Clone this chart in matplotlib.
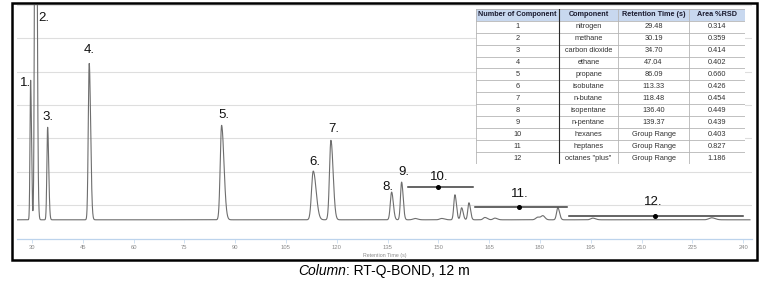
import numpy as np
import matplotlib
matplotlib.use("Agg")
import matplotlib.pyplot as plt
from matplotlib.patches import Rectangle

plt.rcParams['font.family'] = ['Liberation Sans', 'DejaVu Sans']

# ================= DATA =================

# table
table_header = ["Number of Component", "Component", "Retention Time (s)", "Area %RSD"]
comp_number = ["1", "2", "3", "4", "5", "6", "7", "8", "9", "10", "11", "12"]
comp_name = ["nitrogen", "methane", "carbon dioxide", "ethane", "propane", "isobutane",
             "n-butane", "isopentane", "n-pentane", "hexanes", "heptanes", 'octanes "plus"']
comp_rt = ["29.48", "30.19", "34.70", "47.04", "86.09", "113.33", "118.48", "136.40",
           "139.37", "Group Range", "Group Range", "Group Range"]
comp_rsd = ["0.314", "0.359", "0.414", "0.402", "0.660", "0.426", "0.454", "0.449",
            "0.439", "0.403", "0.827", "1.186"]

# chromatogram peaks (time s, height above baseline, left/right width s)
peak_time = [29.62, 31.09, 34.64, 46.92, 86.0, 113.06, 118.28, 136.2, 139.15,
             143.1, 151.0, 154.89, 156.87, 159.03, 163.75, 166.7, 179.4, 180.9,
             185.28, 195.6, 230.7]
peak_height = [4.18, 20.0, 2.77, 4.68, 2.83, 1.46, 2.38, 0.83, 1.13,
               0.04, 0.04, 0.75, 0.36, 0.51, 0.07, 0.05, 0.08, 0.11,
               0.36, 0.05, 0.06]
peak_sig_l = [0.18, 0.25, 0.22, 0.28, 0.4, 0.5, 0.42, 0.38, 0.33,
              0.6, 0.6, 0.33, 0.33, 0.33, 0.5, 0.5, 0.6, 0.5,
              0.38, 0.6, 0.8]
peak_sig_r = [0.26, 0.35, 0.32, 0.42, 0.7, 0.85, 0.65, 0.5, 0.45,
              0.8, 0.8, 0.45, 0.45, 0.45, 0.7, 0.7, 0.8, 0.6,
              0.5, 0.8, 1.0]
baseline = 0.56

# peak labels
label_text = ["1.", "2.", "3.", "4.", "5.", "6.", "7.", "8.", "9.", "10.", "11.", "12."]
label_t = [28.23, 33.54, 34.72, 46.98, 86.54, 113.55, 119.02, 135.11, 139.68, 150.31, 174.08, 213.49]
label_y = [4.66, 6.60, 3.64, 5.63, 3.70, 2.30, 3.29, 1.54, 1.98, 1.85, 1.33, 1.08]

# group ranges (10, 11, 12)
group_start = [140.92, 160.8, 188.55]
group_end = [160.12, 187.87, 239.83]
group_mid = [149.78, 173.78, 213.94]
group_level = [1.55, 0.94, 0.68]

xticks = list(range(30, 241, 15))

# ================= FIGURE =================

W, H = 768, 285
fig = plt.figure(figsize=(W / 100, H / 100), dpi=100)

# outer black frame
fig.patches.append(Rectangle((12 / W, (H - 260) / H), 745 / W, 257 / H,
                             transform=fig.transFigure, fill=False,
                             edgecolor="black", linewidth=1.8))

ax = fig.add_axes([17 / W, (H - 238.5) / H, 735 / W, 233.8 / H])
t = np.linspace(25.6, 242.0, 8000)
sig = np.full_like(t, baseline)
for t0, h, sl, sr in zip(peak_time, peak_height, peak_sig_l, peak_sig_r):
    s = np.where(t < t0, sl, sr)
    sig += h * np.exp(-0.5 * ((t - t0) / s) ** 2)
ax.plot(t, sig, color="#6e6e6e", linewidth=0.8)

for s0, s1, m, lv in zip(group_start, group_end, group_mid, group_level):
    ax.plot([s0, s1], [lv, lv], color="#3a3a3a", linewidth=1.1)
    ax.plot(m, lv, "o", color="black", markersize=2.6)

for txt, lx, ly in zip(label_text, label_t, label_y):
    ax.text(lx, ly, txt, ha="center", va="center", fontsize=9.5, color="#111111")

ax.set_xlim(25.6, 242.6)
ax.set_ylim(0, 7)
ax.set_yticks(range(1, 8))
ax.yaxis.grid(True, color="#dedede", linewidth=0.8)
ax.tick_params(axis="y", left=False, labelleft=False)
ax.set_xticks(xticks)
ax.tick_params(axis="x", length=3, width=0.6, color="#c9dcef",
               labelsize=4.2, labelcolor="#8a8a8a", pad=2)
for sp in ["top", "right", "left"]:
    ax.spines[sp].set_visible(False)
ax.spines["bottom"].set_color("#bcd3ec")
ax.spines["bottom"].set_linewidth(0.9)
ax.set_xlabel("Retention Time (s)", fontsize=3.8, color="#8a8a8a", labelpad=2)

# ================= TABLE =================

tx0, tx1, ty0, ty1 = 476, 745, 9.3, 164.0
tab = fig.add_axes([tx0 / W, (H - ty1) / H, (tx1 - tx0) / W, (ty1 - ty0) / H])
tab.set_xlim(tx0, tx1)
tab.set_ylim(ty1, ty0)
tab.axis("off")
col_edges = [476, 559, 618, 689, 745]
row_h = (ty1 - 20.7) / 12
row_edges = [ty0, 20.7] + [20.7 + row_h * (i + 1) for i in range(12)]

tab.add_patch(Rectangle((tx0, ty0), tx1 - tx0, ty1 - ty0, facecolor="white",
                        edgecolor="none", zorder=0))
tab.add_patch(Rectangle((tx0, ty0), tx1 - tx0, 20.7 - ty0, facecolor="#c8d8ef",
                        edgecolor="none", zorder=1))
for y in row_edges:
    tab.plot([tx0, tx1], [y, y], color="#b5b5b5", linewidth=0.6, zorder=2)
for i, x in enumerate(col_edges):
    c = "#2a2a2a" if i == 1 else "#b5b5b5"
    lw = 0.8 if i == 1 else 0.6
    tab.plot([x, x], [ty0, ty1], color=c, linewidth=lw, zorder=3)

centers = [(col_edges[i] + col_edges[i + 1]) / 2 for i in range(4)]
for cx, txt in zip(centers, table_header):
    tab.text(cx, (ty0 + 20.7) / 2, txt, ha="center", va="center",
             fontsize=5.2, fontweight="bold", color="#1a1a2e", zorder=4)
for r, row in enumerate(zip(comp_number, comp_name, comp_rt, comp_rsd)):
    yc = (row_edges[r + 1] + row_edges[r + 2]) / 2
    for cx, txt in zip(centers, row):
        tab.text(cx, yc, txt, ha="center", va="center", fontsize=5.3,
                 color="#333333", zorder=4)

# ================= CAPTION =================

cap = fig.text(298 / W, 1 - 271 / H, "Column", fontsize=10, style="italic",
               ha="left", va="center")
ax.annotate(": RT-Q-BOND, 12 m", xy=(1, 0), xycoords=cap, va="bottom",
            ha="left", fontsize=10, annotation_clip=False)

fig.savefig("out.png", dpi=100)
